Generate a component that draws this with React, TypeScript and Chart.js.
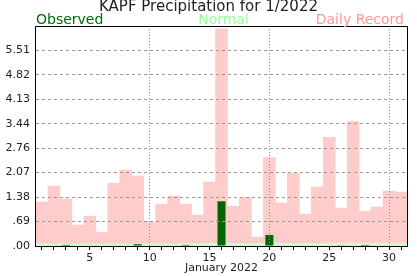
import React, { useEffect, useRef } from 'react';
import { Chart, registerables } from 'chart.js';

Chart.register(...registerables);

const TITLE = 'KAPF Precipitation for 1/2022';
const X_TITLE = 'January 2022';
const LEGEND_LABELS = ['Observed', 'Normal', 'Daily Record'];

const days = ['1', '2', '3', '4', '5', '6', '7', '8', '9', '10', '11', '12', '13', '14', '15', '16', '17', '18', '19', '20', '21', '22', '23', '24', '25', '26', '27', '28', '29', '30', '31'];
const observed = [0, 0, 0.03, 0, 0, 0, 0, 0, 0.05, 0, 0, 0, 0.03, 0, 0, 1.26, 0, 0, 0, 0.31, 0, 0, 0, 0, 0, 0.02, 0, 0.03, 0, 0, 0];
const normal = [0.06, 0.06, 0.06, 0.06, 0.06, 0.06, 0.06, 0.06, 0.06, 0.06, 0.06, 0.06, 0.07, 0.07, 0.07, 0.07, 0.07, 0.07, 0.07, 0.07, 0.07, 0.07, 0.07, 0.07, 0.08, 0.08, 0.08, 0.08, 0.08, 0.08, 0.08];
const record = [1.24, 1.69, 1.32, 0.59, 0.84, 0.39, 1.77, 2.14, 1.97, 0.67, 1.18, 1.41, 1.18, 0.87, 1.80, 6.12, 1.12, 1.37, 0.25, 2.49, 1.21, 2.05, 0.90, 1.66, 3.06, 1.07, 3.51, 0.98, 1.10, 1.55, 1.52];

const yTickValues = [0, 0.69, 1.38, 2.07, 2.76, 3.44, 4.13, 4.82, 5.51];
const yTickLabels = ['.00', '.69', '1.38', '2.07', '2.76', '3.44', '4.13', '4.82', '5.51'];
const Y_MAX = 6.2;
const xLabeledDays = ['5', '10', '15', '20', '25', '30'];
const xGridDays = ['10', '20', '30'];

const FONT = '"DejaVu Sans", Verdana, sans-serif';
const TRANSPARENT = 'rgba(0,0,0,0)';

const textPlugin = {
  id: 'textAndFrame',
  afterDraw(chart: any) {
    const { ctx, chartArea } = chart;
    ctx.save();
    ctx.strokeStyle = '#000';
    ctx.lineWidth = 1;
    ctx.strokeRect(chartArea.left - 0.5, chartArea.top + 0.5, chartArea.right - chartArea.left + 1, chartArea.bottom - chartArea.top);
    ctx.textBaseline = 'alphabetic';
    ctx.font = `15px ${FONT}`;
    ctx.fillStyle = '#222';
    ctx.textAlign = 'center';
    ctx.fillText(TITLE, chart.width / 2, 11);
    ctx.font = `14px ${FONT}`;
    ctx.fillStyle = '#006e00';
    ctx.textAlign = 'left';
    ctx.fillText(LEGEND_LABELS[0], chartArea.left, 24);
    ctx.fillStyle = '#99ff99';
    ctx.textAlign = 'center';
    ctx.fillText(LEGEND_LABELS[1], (chartArea.left + chartArea.right) / 2 + 2, 24);
    ctx.fillStyle = '#ff9999';
    ctx.textAlign = 'right';
    ctx.fillText(LEGEND_LABELS[2], chartArea.right - 3, 24);
    ctx.restore();
  },
};

export default function App() {
  const ref = useRef<HTMLCanvasElement>(null);
  useEffect(() => {
    document.body.style.margin = '0';
    const canvas = ref.current!;
    const chart = new Chart(canvas, {
      type: 'bar',
      data: {
        labels: days,
        datasets: [
          {
            label: LEGEND_LABELS[0],
            data: observed,
            backgroundColor: '#006600',
            borderWidth: 0,
            grouped: false,
            categoryPercentage: 1,
            barPercentage: 0.67,
            order: 0,
          },
          {
            label: LEGEND_LABELS[1],
            data: normal,
            backgroundColor: '#ccffcc',
            borderWidth: 0,
            grouped: false,
            categoryPercentage: 1,
            barPercentage: 1,
            order: 1,
          },
          {
            label: LEGEND_LABELS[2],
            data: record,
            backgroundColor: '#ffcccc',
            borderWidth: 0,
            grouped: false,
            categoryPercentage: 1,
            barPercentage: 1,
            order: 2,
          },
        ] as any,
      },
      options: {
        animation: false,
        responsive: false,
        maintainAspectRatio: false,
        layout: { padding: { left: 0, right: 10, top: 26, bottom: 0 } },
        plugins: { legend: { display: false }, title: { display: false }, tooltip: { enabled: false } },
        scales: {
          x: {
            type: 'category',
            offset: true,
            afterFit: (scale: any) => { scale.height = 30; },
            grid: {
              offset: false,
              z: 1,
              color: (c: any) => (xGridDays.includes(days[c.index]) ? '#888' : TRANSPARENT),
              lineWidth: 1,
              drawTicks: true,
              tickLength: 4,
              tickColor: '#000',
              tickWidth: 1,
              tickBorderDash: [],
            } as any,
            border: { display: false, dash: [1, 2] } as any,
            ticks: {
              autoSkip: false,
              maxRotation: 0,
              padding: 2,
              color: '#222',
              font: { family: FONT, size: 11 },
              callback: (_v: any, i: number) => (xLabeledDays.includes(days[i]) ? days[i] : ''),
            },
            title: {
              display: true,
              text: X_TITLE,
              color: '#222',
              font: { family: FONT, size: 11 },
              padding: { top: 0, bottom: 1 },
            },
          },
          y: {
            type: 'linear',
            min: 0,
            max: Y_MAX,
            afterFit: (scale: any) => { scale.width = 36; },
            afterBuildTicks: (scale: any) => { scale.ticks = yTickValues.map((v) => ({ value: v })); },
            grid: {
              z: 1,
              color: (c: any) => (c.tick && c.tick.value === 0 ? TRANSPARENT : '#999'),
              lineWidth: 1,
              drawTicks: false,
            } as any,
            border: { display: false, dash: [3, 3] } as any,
            ticks: {
              padding: 6,
              color: '#222',
              font: { family: FONT, size: 11 },
              callback: (_v: any, i: number) => yTickLabels[i],
            },
          },
        },
      },
      plugins: [textPlugin],
    });
    return () => chart.destroy();
  }, []);
  return (
    <div style={{ width: 417, height: 276 }}>
      <canvas ref={ref} width={417} height={276} style={{ width: 417, height: 276, display: 'block' }} />
    </div>
  );
}
